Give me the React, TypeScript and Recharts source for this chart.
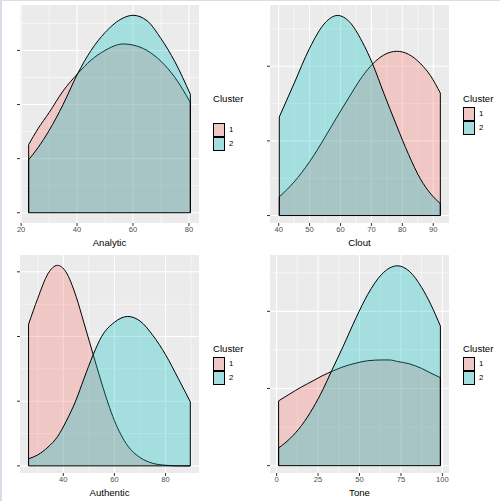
import React from 'react';
import { AreaChart, Area, XAxis, YAxis, CartesianGrid, ReferenceLine } from 'recharts';

// ---------- Data (density estimates) ----------
const clusterNames = ['1', '2'];
const clusterColors = ['#F8766D', '#00BFC4'];

// Analytic
const analyticX = [22.7, 26, 30, 35, 40.2, 45, 50, 56.5, 60, 65, 70, 75, 80.5];
const analyticC1 = [1.26, 1.55, 1.85, 2.25, 2.57, 2.82, 3.0, 3.12, 3.1, 3.0, 2.8, 2.5, 2.04];
const analyticC2 = [0.98, 1.2, 1.52, 2.0, 2.57, 3.0, 3.33, 3.6, 3.65, 3.55, 3.22, 2.79, 2.19];
const analyticTicks = [20, 40, 60, 80];
const analyticMinor = [30, 50, 70];
const analyticYTicks = [0, 1, 2, 3];
const analyticYMinor = [0.5, 1.5, 2.5, 3.5];

// Clout
const cloutX = [40.2, 45, 50, 55, 59, 63, 67, 70.4, 74, 78.2, 82, 86, 89, 92.3];
const cloutC1 = [0.25, 0.45, 0.72, 1.05, 1.33, 1.6, 1.86, 2.03, 2.15, 2.2, 2.16, 2.03, 1.88, 1.64];
const cloutC2 = [1.32, 1.77, 2.24, 2.58, 2.68, 2.59, 2.33, 2.03, 1.64, 1.2, 0.82, 0.48, 0.3, 0.16];
const cloutTicks = [40, 50, 60, 70, 80, 90];
const cloutMinor = [45, 55, 65, 75, 85];
const cloutYTicks = [0, 1, 2];
const cloutYMinor = [0.5, 1.5, 2.5];

// Authentic
const authX = [26.4, 30, 34, 37.7, 41, 45, 48, 51.7, 55, 60, 65.2, 70, 75, 80, 85, 89.7];
const authC1 = [2.19, 2.59, 2.97, 3.1, 3.0, 2.62, 2.22, 1.72, 1.28, 0.7, 0.31, 0.13, 0.04, 0.01, 0.0, 0.0];
const authC2 = [0.11, 0.17, 0.29, 0.45, 0.68, 1.02, 1.34, 1.72, 2.0, 2.22, 2.31, 2.24, 2.02, 1.72, 1.35, 0.99];
const authTicks = [40, 60, 80];
const authMinor = [30, 50, 70, 90];
const authYTicks = [0, 1, 2, 3];
const authYMinor = [0.5, 1.5, 2.5];

// Tone
const toneX = [1.2, 8, 15, 22, 28, 33.2, 40, 48, 55, 63.4, 68, 73, 80, 87.5, 93, 98.8];
const toneC1 = [0.84, 0.93, 1.02, 1.1, 1.17, 1.22, 1.28, 1.33, 1.36, 1.37, 1.37, 1.35, 1.32, 1.26, 1.2, 1.14];
const toneC2 = [0.23, 0.35, 0.52, 0.75, 0.99, 1.23, 1.54, 1.92, 2.22, 2.48, 2.56, 2.59, 2.52, 2.31, 2.09, 1.81];
const toneTicks = [0, 25, 50, 75, 100];
const toneMinor = [12.5, 37.5, 62.5, 87.5];
const toneYTicks = [0, 1, 2];
const toneYMinor = [0.5, 1.5, 2.5];

type PanelProps = {
  title: string;
  xs: number[];
  c1: number[];
  c2: number[];
  xDomain: [number, number];
  yDomain: [number, number];
  xTicks: number[];
  xMinor: number[];
  yTicks: number[];
  yMinor: number[];
  left: number;
  top: number;
  legendKeysTop: number;
};

function Legend({ keysTop }: { keysTop: number }) {
  return (
    <div style={{ position: 'absolute', left: 213, top: 0, width: 37, height: 250, pointerEvents: 'none' }}>
      <div style={{ position: 'absolute', left: 0, top: 93, fontSize: 9.6, lineHeight: '12px', color: '#000', whiteSpace: 'nowrap' }}>
        Cluster
      </div>
      {clusterNames.map((n, i) => (
        <React.Fragment key={n}>
          <div
            style={{
              position: 'absolute',
              left: 0,
              top: keysTop + i * 14,
              width: 12,
              height: 14,
              boxSizing: 'border-box',
              border: '1px solid #000',
              background: '#EBEBEB',
            }}
          >
            <div style={{ width: '100%', height: '100%', background: clusterColors[i], opacity: 0.3 }} />
          </div>
          <div
            style={{
              position: 'absolute',
              left: 16,
              top: keysTop + i * 14 + 2,
              fontSize: 7.8,
              lineHeight: '10px',
              color: '#000',
            }}
          >
            {n}
          </div>
        </React.Fragment>
      ))}
    </div>
  );
}

const EmptyTick = () => <g />;

function Panel(p: PanelProps) {
  const rows = p.xs.map((x, i) => ({ x, c1: p.c1[i], c2: p.c2[i] }));
  const x0 = p.xs[0];
  const x1 = p.xs[p.xs.length - 1];
  const series = [p.c1, p.c2];
  return (
    <div style={{ position: 'absolute', left: p.left, top: p.top, width: 250, height: 250 }}>
      <AreaChart width={250} height={250} data={rows} margin={{ top: 5, right: 51, bottom: 2, left: 0 }}>
        <CartesianGrid fill="#EBEBEB" fillOpacity={1} stroke="#FFFFFF" strokeWidth={1.1} syncWithTicks />
        <CartesianGrid xAxisId="minor" yAxisId="minor" stroke="#FFFFFF" strokeWidth={0.55} syncWithTicks />
        <XAxis
          dataKey="x"
          type="number"
          domain={p.xDomain}
          ticks={p.xTicks}
          interval={0}
          allowDataOverflow
          axisLine={false}
          tickSize={3}
          tickMargin={1}
          tickLine={{ stroke: '#333333' }}
          tick={{ fontSize: 7.6, fill: '#4D4D4D' }}
          height={25}
          label={{ value: p.title, position: 'insideBottom', offset: 2, fontSize: 9.6, fill: '#000' }}
        />
        <XAxis
          xAxisId="minor"
          dataKey="x"
          type="number"
          domain={p.xDomain}
          ticks={p.xMinor}
          interval={0}
          allowDataOverflow
          hide
        />
        <YAxis
          type="number"
          domain={p.yDomain}
          ticks={p.yTicks}
          interval={0}
          allowDataOverflow
          width={20}
          axisLine={false}
          tick={EmptyTick}
          tickSize={3}
          tickLine={{ stroke: '#333333' }}
        />
        <YAxis
          yAxisId="minor"
          type="number"
          domain={p.yDomain}
          ticks={p.yMinor}
          interval={0}
          allowDataOverflow
          hide
        />
        <Area
          type="monotone"
          dataKey="c1"
          baseValue={0}
          stroke="#000"
          strokeWidth={1}
          fill={clusterColors[0]}
          fillOpacity={0.3}
          dot={false}
          activeDot={false}
          isAnimationActive={false}
        />
        <Area
          type="monotone"
          dataKey="c2"
          baseValue={0}
          stroke="#000"
          strokeWidth={1}
          fill={clusterColors[1]}
          fillOpacity={0.3}
          dot={false}
          activeDot={false}
          isAnimationActive={false}
        />
        {series.map((s, i) => (
          <ReferenceLine
            key={'l' + i}
            segment={[{ x: x0, y: 0 }, { x: x0, y: s[0] }]}
            stroke="#000"
            strokeWidth={1}
          />
        ))}
        {series.map((s, i) => (
          <ReferenceLine
            key={'r' + i}
            segment={[{ x: x1, y: 0 }, { x: x1, y: s[s.length - 1] }]}
            stroke="#000"
            strokeWidth={1}
          />
        ))}
        <ReferenceLine segment={[{ x: x0, y: 0 }, { x: x1, y: 0 }]} stroke="#000" strokeWidth={1} />
      </AreaChart>
      <Legend keysTop={p.legendKeysTop} />
    </div>
  );
}

export default function App() {
  return (
    <div
      style={{
        position: 'fixed',
        left: 0,
        top: 0,
        width: 500,
        height: 501,
        background: '#FFFFFF',
        overflow: 'hidden',
        fontFamily: '"Liberation Sans", Arial, Helvetica, sans-serif',
      }}
    >
      <Panel
        title="Analytic"
        xs={analyticX}
        c1={analyticC1}
        c2={analyticC2}
        xDomain={[19.6, 83.6]}
        yDomain={[-0.19, 3.84]}
        xTicks={analyticTicks}
        xMinor={analyticMinor}
        yTicks={analyticYTicks}
        yMinor={analyticYMinor}
        left={0}
        top={0}
        legendKeysTop={123}
      />
      <Panel
        title="Clout"
        xs={cloutX}
        c1={cloutC1}
        c2={cloutC2}
        xDomain={[37.2, 95.1]}
        yDomain={[-0.1, 2.82]}
        xTicks={cloutTicks}
        xMinor={cloutMinor}
        yTicks={cloutYTicks}
        yMinor={cloutYMinor}
        left={250}
        top={0}
        legendKeysTop={107}
      />
      <Panel
        title="Authentic"
        xs={authX}
        c1={authC1}
        c2={authC2}
        xDomain={[23.05, 93.1]}
        yDomain={[-0.11, 3.26]}
        xTicks={authTicks}
        xMinor={authMinor}
        yTicks={authYTicks}
        yMinor={authYMinor}
        left={0}
        top={250}
        legendKeysTop={107}
      />
      <Panel
        title="Tone"
        xs={toneX}
        c1={toneC1}
        c2={toneC2}
        xDomain={[-4, 104]}
        yDomain={[-0.095, 2.73]}
        xTicks={toneTicks}
        xMinor={toneMinor}
        yTicks={toneYTicks}
        yMinor={toneYMinor}
        left={250}
        top={250}
        legendKeysTop={107}
      />
      <div style={{ position: 'absolute', left: 0, top: 0, width: 2, height: 501, background: '#D9DDE8' }} />
      <div style={{ position: 'absolute', left: 0, top: 0, width: 500, height: 1, background: '#D9DDE8' }} />
    </div>
  );
}
